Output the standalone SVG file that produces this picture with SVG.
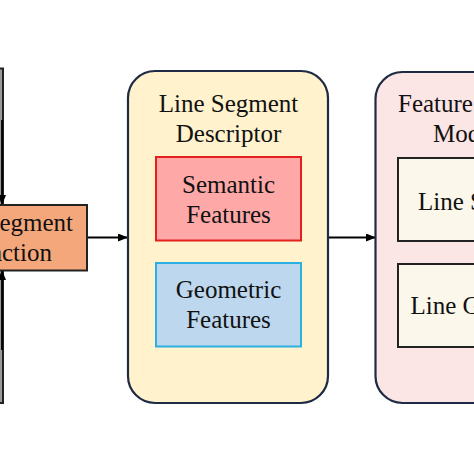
<svg xmlns="http://www.w3.org/2000/svg" width="474" height="474" viewBox="0 0 474 474">
<defs>
<marker id="ah" markerWidth="10" markerHeight="8" refX="9" refY="4" orient="auto" markerUnits="userSpaceOnUse">
<path d="M0,0 L10,4 L0,8 Z" fill="#000"/>
</marker>
<style>
text{font-family:"Liberation Serif","Times New Roman",serif;font-size:25px;fill:#111}
.c{text-anchor:middle}
.big{stroke:#1F2B45;stroke-width:2.2}
.con{stroke:#000;stroke-width:1.8;fill:none}
</style>
</defs>
<rect width="474" height="474" fill="#fff"/>
<g id="left-block">
<rect x="-20" y="68.5" width="23" height="334.5" fill="#9a9a9a" stroke="#222" stroke-width="2"/>
</g>
<g id="connectors">
<line class="con" x1="2" y1="120" x2="2" y2="204" marker-end="url(#ah)"/>
<line class="con" x1="2" y1="350" x2="2" y2="271" marker-end="url(#ah)"/>
<line class="con" x1="87" y1="237.5" x2="127" y2="237.5" marker-end="url(#ah)"/>
<line class="con" x1="328" y1="237.5" x2="375" y2="237.5" marker-end="url(#ah)"/>
</g>
<g id="extraction">
<rect x="-20" y="205" width="107" height="65.5" fill="#F5A77C" stroke="#222" stroke-width="2"/>
<text x="73" y="231" text-anchor="end">Line Segment</text>
<text x="52" y="261" text-anchor="end">Extraction</text>
</g>
<g id="descriptor">
<rect class="big" x="128" y="71" width="200" height="332" rx="27" fill="#FFF2CC"/>
<text class="c" x="228.5" y="112">Line Segment</text>
<text class="c" x="228.5" y="142">Descriptor</text>
</g>
<g id="semantic">
<rect x="156" y="157" width="145" height="83.5" fill="#FFA8A8" stroke="#E4201E" stroke-width="2"/>
<text class="c" x="228.5" y="193">Semantic</text>
<text class="c" x="228.5" y="223">Features</text>
</g>
<g id="geometric">
<rect x="156" y="263" width="145" height="83.5" fill="#BDD7EE" stroke="#2BB0E4" stroke-width="2"/>
<text class="c" x="228.5" y="298">Geometric</text>
<text class="c" x="228.5" y="328">Features</text>
</g>
<g id="matching">
<rect class="big" x="375.5" y="72" width="200" height="331" rx="27" fill="#FCE5E5"/>
<text x="398" y="112">Feature Matching</text>
<text x="433" y="142">Module</text>
</g>
<g id="line-semantic">
<rect x="398" y="158" width="120" height="83" fill="#FBF7EA" stroke="#222" stroke-width="2"/>
<text x="418" y="210">Line Semantic</text>
</g>
<g id="line-geometric">
<rect x="398" y="264" width="120" height="83" fill="#FBF7EA" stroke="#222" stroke-width="2"/>
<text x="410.5" y="314">Line Geometric</text>
</g>
</svg>
